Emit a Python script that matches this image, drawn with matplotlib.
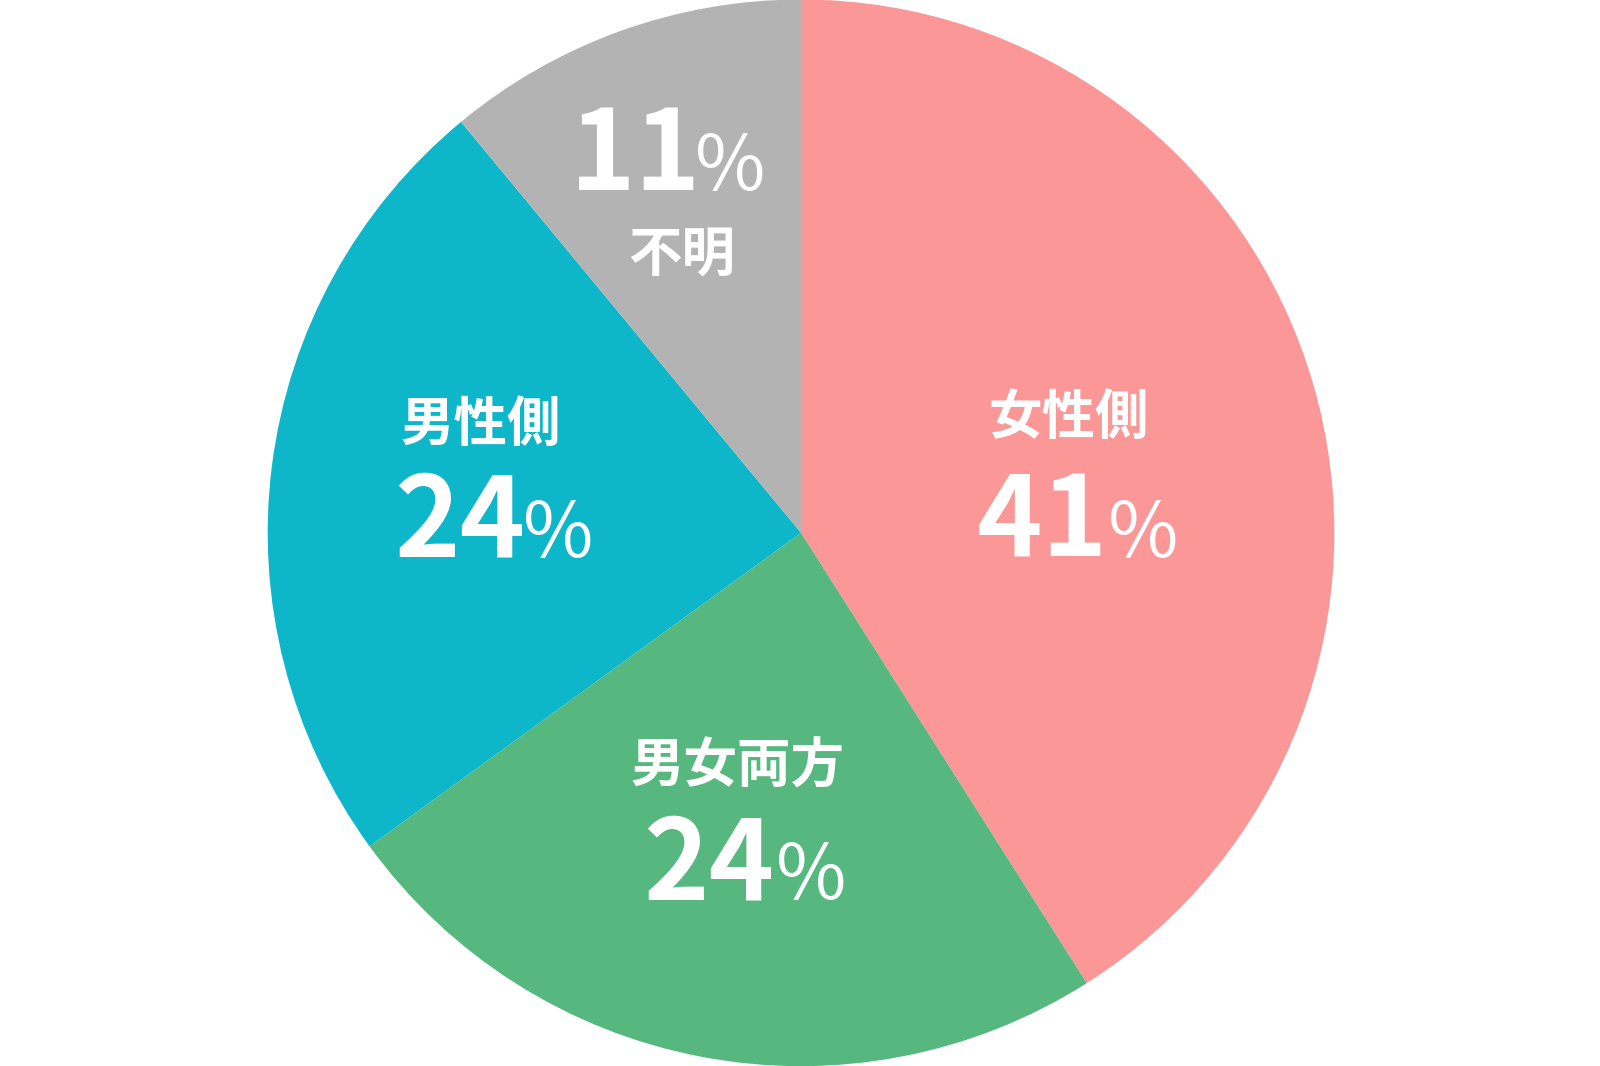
import matplotlib
matplotlib.use("Agg")
import matplotlib.pyplot as plt

plt.rcParams['font.family'] = ['Noto Sans CJK JP', 'DejaVu Sans']

categories = ['女性側', '男女両方', '男性側', '不明']
values = [41, 24, 24, 11]
colors = ['#FC9797', '#56B87F', '#0EB6C9', '#B3B3B3']

# coordinate system: reference measured at 1566 px width
W = 1566.0
H = 1066.0 * W / 1600.0
fig = plt.figure(figsize=(16, 10.66), dpi=100)
ax = fig.add_axes([0, 0, 1, 1])

cx, cy, r = 784, H - 521.5, 522
ax.pie(values, colors=colors, startangle=90, counterclock=False,
       center=(cx, cy), radius=r, wedgeprops=dict(linewidth=0))
ax.set_xlim(0, W)
ax.set_ylim(0, H)
ax.set_aspect('auto')
ax.axis('off')

# label layout (pixel positions, y from top)
name_pos = [(1046, 409.5), (722, 750.5), (471, 416), (667, 251)]
digit_pos = [(1020, 545), (694, 880), (450, 545), (622, 186)]
pct_pos = [(1119, 545), (794, 880), (546, 545), (715, 186)]

for cat, v, (nx, ny), (dx, dy), (px, py) in zip(categories, values, name_pos, digit_pos, pct_pos):
    ax.text(nx, H - ny, cat, ha='center', va='center', color='white',
            fontsize=38.5, fontweight='bold')
    ax.text(dx, H - dy, str(v), ha='center', va='baseline', color='white',
            fontsize=80, fontweight='bold')
    ax.text(px, H - py, '%', ha='center', va='baseline', color='white',
            fontsize=55, fontweight='normal')

fig.savefig('out.png', dpi=100)
